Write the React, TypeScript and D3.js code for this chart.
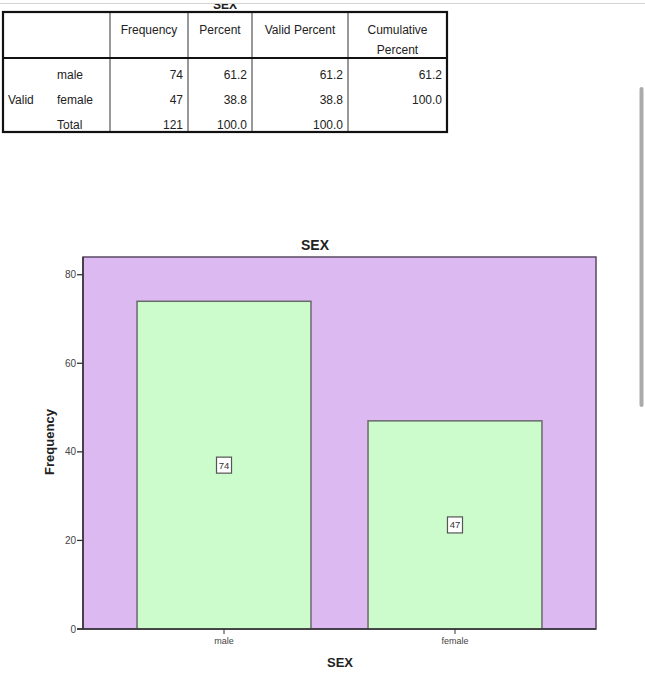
import React from "react";
import * as d3 from "d3";

const categories = ["male", "female"];
const frequencies = [74, 47];
const yTicks = [0, 20, 40, 60, 80];

const tableTitle = "SEX";
const tableHeaders = ["Frequency", "Percent", "Valid Percent", "Cumulative|Percent"];
const rowGroup = "Valid";
const rowLabels = ["male", "female", "Total"];
const colFrequency = ["74", "47", "121"];
const colPercent = ["61.2", "38.8", "100.0"];
const colValidPercent = ["61.2", "38.8", "100.0"];
const colCumulative = ["61.2", "100.0", ""];

const W = 645;
const H = 700;
const FONT = "'Liberation Sans', Arial, sans-serif";

export default function App() {
  const plot = { left: 83, right: 596, top: 257, bottom: 629 };
  const x = d3
    .scaleBand<string>()
    .domain(categories)
    .range([plot.left, plot.right])
    .paddingInner(0.247)
    .paddingOuter(0.234);
  const y = d3.scaleLinear().domain([0, 84]).range([plot.bottom, plot.top]);

  // table geometry
  const tx0 = 3, tx1 = 447, ty0 = 12, tyH = 58, ty1 = 132;
  const colX = [tx0, 110, 188, 252, 348, tx1];
  const cols = [colFrequency, colPercent, colValidPercent, colCumulative];
  const rowY = [79, 104, 129];

  return (
    <div style={{ position: "absolute", left: 0, top: 0 }}>
      <svg width={W} height={H} style={{ display: "block", background: "#fff" }} fontFamily={FONT}>
        {/* ===== table ===== */}
        <text x={225} y={9} textAnchor="middle" fontSize={12} fontWeight="bold" fill="#222">
          {tableTitle}
        </text>
        <rect x={0} y={0} width={W} height={3} fill="#fff" />
        {/* top window line */}
        <line x1={0} x2={W} y1={3.5} y2={3.5} stroke="#d4d4d4" strokeWidth={1} />
        {/* scrollbar */}
        <rect x={639.5} y={87} width={4} height={320} rx={2} fill="#ababab" />

        {colX.slice(1, -1).map((cx, i) => (
          <line key={"cl" + i} x1={cx} x2={cx} y1={ty0} y2={ty1} stroke="#333" strokeWidth={1} />
        ))}
        <line x1={tx0} x2={tx1} y1={tyH} y2={tyH} stroke="#111" strokeWidth={2} />
        <rect x={tx0} y={ty0} width={tx1 - tx0} height={ty1 - ty0} fill="none" stroke="#111" strokeWidth={2.2} />
        {tableHeaders.map((h, i) => {
          const cx = (colX[i + 1] + colX[i + 2]) / 2;
          const parts = h.split("|");
          return parts.map((p, j) => (
            <text key={"h" + i + j} x={cx} y={34 + j * 20} textAnchor="middle" fontSize={12} fill="#222">
              {p}
            </text>
          ));
        })}
        <text x={8} y={104} fontSize={12} fill="#222">{rowGroup}</text>
        {rowLabels.map((r, i) => (
          <text key={"r" + i} x={57} y={rowY[i]} fontSize={12} fill="#222">{r}</text>
        ))}
        {cols.map((col, ci) =>
          col.map((v, ri) => (
            <text key={"v" + ci + ri} x={colX[ci + 2] - 5} y={rowY[ri]} textAnchor="end" fontSize={12} fill="#222">
              {v}
            </text>
          ))
        )}

        {/* ===== chart ===== */}
        <text x={315} y={250} textAnchor="middle" fontSize={14} fontWeight="bold" fill="#222">
          SEX
        </text>
        <rect
          x={plot.left}
          y={plot.top}
          width={plot.right - plot.left}
          height={plot.bottom - plot.top}
          fill="#dcb9f0"
          stroke="#5a4a66"
          strokeWidth={1.5}
        />
        {categories.map((c, i) => (
          <rect
            key={"b" + c}
            x={x(c)!}
            y={y(frequencies[i])}
            width={x.bandwidth()}
            height={y(0) - y(frequencies[i])}
            fill="#ccfccc"
            stroke="#6a6a6a"
            strokeWidth={1.5}
          />
        ))}
        {categories.map((c, i) => {
          const cx = x(c)! + x.bandwidth() / 2;
          const cy = (y(frequencies[i]) + y(0)) / 2;
          return (
            <g key={"lab" + c}>
              <rect x={cx - 7.5} y={cy - 8} width={15} height={16} fill="#fff" stroke="#555" strokeWidth={1.2} />
              <text x={cx} y={cy + 3.5} textAnchor="middle" fontSize={9.5} fill="#333">
                {frequencies[i]}
              </text>
            </g>
          );
        })}
        {/* y axis */}
        <line x1={plot.left} x2={plot.left} y1={plot.top} y2={plot.bottom} stroke="#333" strokeWidth={1.5} />
        {yTicks.map((t) => (
          <g key={"yt" + t}>
            <line x1={plot.left - 6} x2={plot.left} y1={y(t)} y2={y(t)} stroke="#333" strokeWidth={1.3} />
            <text x={plot.left - 7} y={y(t) + 3.5} textAnchor="end" fontSize={10} fill="#444">
              {t}
            </text>
          </g>
        ))}
        {/* x axis */}
        <line x1={plot.left - 6} x2={plot.right} y1={plot.bottom} y2={plot.bottom} stroke="#333" strokeWidth={1.5} />
        {categories.map((c) => {
          const cx = x(c)! + x.bandwidth() / 2;
          return (
            <g key={"xt" + c}>
              <line x1={cx} x2={cx} y1={plot.bottom} y2={plot.bottom + 5} stroke="#333" strokeWidth={1} />
              <text x={cx} y={plot.bottom + 15} textAnchor="middle" fontSize={9} fill="#444">
                {c}
              </text>
            </g>
          );
        })}
        <text x={340} y={667} textAnchor="middle" fontSize={13} fontWeight="bold" fill="#222">
          SEX
        </text>
        <text
          transform={`translate(54, ${442}) rotate(-90)`}
          textAnchor="middle"
          fontSize={13}
          fontWeight="bold"
          fill="#222"
        >
          Frequency
        </text>
      </svg>
    </div>
  );
}
